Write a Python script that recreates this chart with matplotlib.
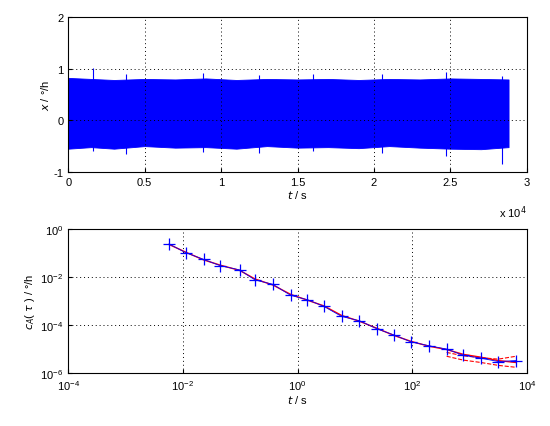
import numpy as np
import matplotlib
matplotlib.use('Agg')
import matplotlib.pyplot as plt

plt.rcParams['font.family'] = ['Liberation Sans', 'DejaVu Sans']
plt.rcParams['font.size'] = 8
plt.rcParams['axes.unicode_minus'] = False

# top panel: envelope of the raw gyro signal (t in s, x in deg/h)
t_env = [0, 1500, 3000, 5000, 7000, 9000, 11000, 13000, 15000, 17000, 19000,
         21000, 23000, 25000, 27000, 28800]
x_upper = [0.82, 0.80, 0.78, 0.80, 0.79, 0.81, 0.78, 0.80, 0.79, 0.80, 0.78,
           0.80, 0.79, 0.81, 0.80, 0.79]
x_lower = [-0.55, -0.52, -0.55, -0.50, -0.53, -0.52, -0.55, -0.50, -0.53, -0.52,
           -0.54, -0.50, -0.53, -0.55, -0.56, -0.52]
spike_t = [1600, 3800, 8800, 12500, 16000, 20500, 24700, 28400]
spike_hi = [1.02, 0.90, 0.92, 0.88, 0.90, 0.89, 0.93, 0.85]
spike_lo = [-0.60, -0.65, -0.62, -0.63, -0.60, -0.64, -0.70, -0.85]

# bottom panel: Allan-type statistic vs tau
tau_log = [-2.24, -1.95, -1.64, -1.35, -1.01, -0.74, -0.43, -0.12, 0.17, 0.46,
           0.77, 1.08, 1.39, 1.69, 1.98, 2.29, 2.60, 2.89, 3.20, 3.50, 3.81]
c_log = [-0.62, -0.98, -1.26, -1.52, -1.70, -2.12, -2.30, -2.76, -2.94, -3.22,
         -3.64, -3.82, -4.16, -4.42, -4.70, -4.86, -5.00, -5.26, -5.38, -5.52, -5.48]
c_fit_log = [-0.64, -0.96, -1.28, -1.50, -1.72, -2.08, -2.33, -2.72, -2.96, -3.20,
             -3.60, -3.84, -4.14, -4.44, -4.68, -4.88, -5.02, -5.22, -5.34, -5.48, -5.56]
c_up_log = [-5.14, -5.28, -5.36, -5.42, -5.30]
c_dn_log = [-5.30, -5.46, -5.56, -5.68, -5.76]

tau = 10 ** np.array(tau_log)
c = 10 ** np.array(c_log)
c_fit = 10 ** np.array(c_fit_log)

fig = plt.figure(figsize=(5.5, 4.27), dpi=100)
ax1 = fig.add_axes([0.124, 0.595, 0.834, 0.363])
ax1.fill_between(np.array(t_env) / 1e4, x_lower, x_upper, color='b', lw=0.6)
ax1.vlines(np.array(spike_t) / 1e4, spike_lo, spike_hi, color='b', lw=0.8)
ax1.set_xlim(0, 3)
ax1.set_ylim(-1, 2)
ax1.set_yticks([-1, 0, 1, 2])
ax1.set_xticks([0, 0.5, 1, 1.5, 2, 2.5, 3])
ax1.set_xticklabels(['0', '0.5', '1', '1.5', '2', '2.5', '3'])
ax1.grid(True, color='k', ls=(0, (1, 3)), lw=0.7)
ax1.set_xlabel('$t$ / s', labelpad=1)
ax1.set_ylabel('$x$ / °/h', labelpad=2)
ax1.text(1.0, -0.2, 'x 10$^4$', transform=ax1.transAxes, ha='right', va='top')

ax2 = fig.add_axes([0.124, 0.124, 0.834, 0.337])
ax2.loglog(tau, c_fit, color='r', lw=1.0)
ax2.loglog(tau[-5:], 10 ** np.array(c_up_log), color='r', ls='--', lw=0.8)
ax2.loglog(tau[-5:], 10 ** np.array(c_dn_log), color='r', ls='--', lw=0.8)
ax2.loglog(tau, c, color='b', lw=0.6, marker='+', ms=8, mew=0.9)
ax2.set_xlim(1e-4, 1e4)
ax2.set_ylim(1e-6, 1e0)
ax2.set_xticks([1e-4, 1e-2, 1e0, 1e2, 1e4])
ax2.set_yticks([1e-6, 1e-4, 1e-2, 1e0])
ax2.minorticks_off()
ax2.grid(True, color='k', ls=(0, (1, 3)), lw=0.7)
ax2.set_xlabel('$t$ / s', labelpad=1)
ax2.set_ylabel(r'$c_A$( $\tau$ ) / °/h', labelpad=2)

for ax in (ax1, ax2):
    ax.tick_params(direction='in', length=3)

fig.savefig('out.png', dpi=100)
